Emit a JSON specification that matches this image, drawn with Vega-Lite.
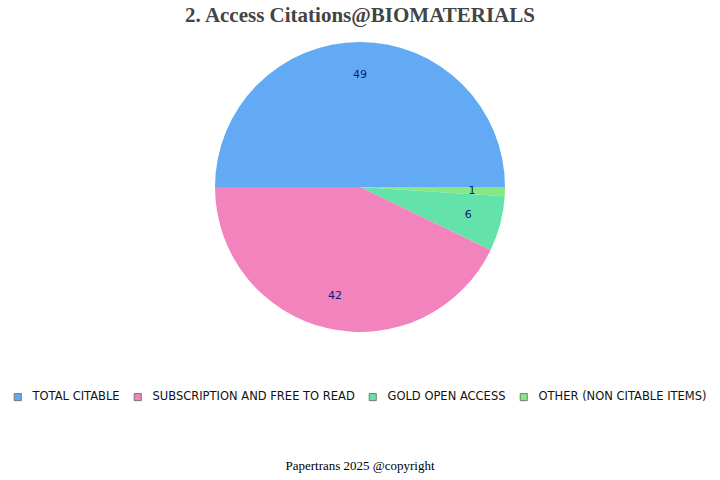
{
  "$schema": "https://vega.github.io/schema/vega-lite/v6.json",
  "background": "white",
  "padding": 5,
  "title": {
    "text": "2. Access Citations@BIOMATERIALS",
    "font": "Liberation Serif",
    "fontSize": 21,
    "fontWeight": "bold",
    "color": "#444444",
    "anchor": "middle",
    "offset": 6
  },
  "spacing": 36,
  "resolve": {"scale": {"color": "independent"}, "legend": {"color": "independent"}},
  "vconcat": [
    {
      "width": 710,
      "height": 310,
      "data": {
        "values": [
          {"category": "TOTAL CITABLE", "value": 49, "ord": 1},
          {"category": "OTHER (NON CITABLE ITEMS)", "value": 1, "ord": 2},
          {"category": "GOLD OPEN ACCESS", "value": 6, "ord": 3},
          {"category": "SUBSCRIPTION AND FREE TO READ", "value": 42, "ord": 4}
        ]
      },
      "encoding": {
        "theta": {
          "field": "value",
          "type": "quantitative",
          "stack": true,
          "scale": {"range": [-1.5708, 4.7124]}
        },
        "order": {"field": "ord", "type": "quantitative"}
      },
      "layer": [
        {
          "mark": {"type": "arc", "outerRadius": 145},
          "encoding": {
            "color": {
              "field": "category",
              "type": "nominal",
              "title": null,
              "scale": {
                "domain": ["TOTAL CITABLE", "SUBSCRIPTION AND FREE TO READ", "GOLD OPEN ACCESS", "OTHER (NON CITABLE ITEMS)"],
                "range": ["#62aaf4", "#f283bc", "#63e3aa", "#88e782"]
              },
              "legend": {
                "orient": "bottom",
                "direction": "horizontal",
                "offset": 42,
                "padding": 7,
                "symbolType": "square",
                "symbolSize": 50,
                "symbolStrokeColor": "#777777",
                "symbolStrokeWidth": 1,
                "labelFont": "DejaVu Sans",
                "labelFontSize": 11.5,
                "labelColor": "#111111",
                "labelOffset": 9,
                "columnPadding": 12,
                "labelLimit": 300
              }
            }
          }
        },
        {
          "mark": {"type": "text", "radius": 112, "font": "DejaVu Sans", "fontSize": 11, "color": "#0a1a80"},
          "encoding": {
            "text": {"field": "value", "type": "quantitative"}
          }
        }
      ]
    },
    {
      "width": 710,
      "height": 40,
      "data": {"values": [{"footer": "Papertrans 2025 @copyright"}]},
      "mark": {"type": "text", "font": "Liberation Serif", "fontSize": 13, "color": "#000000"},
      "encoding": {
        "text": {"field": "footer", "type": "nominal"}
      }
    }
  ],
  "config": {
    "view": {"stroke": null}
  }
}
